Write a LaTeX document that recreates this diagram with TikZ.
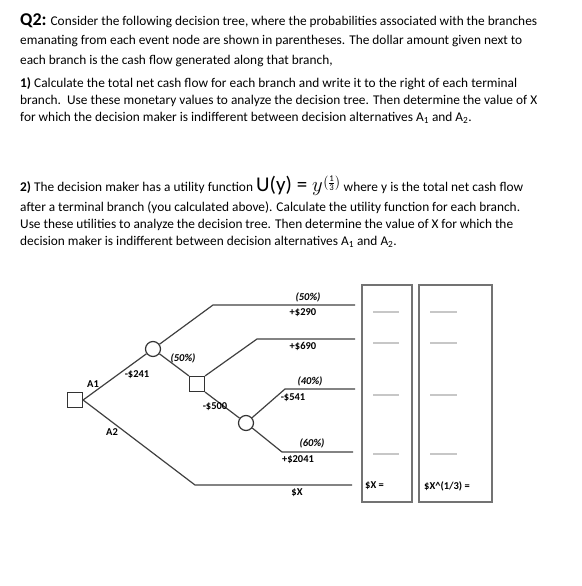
\documentclass[tikz,border=0pt]{standalone}
\usepackage{amsmath}
\usepackage{fontspec}
\setmainfont{Carlito}
\newcommand\jline[2]{\makebox[#1][s]{#2}}
\begin{document}
\begin{tikzpicture}[x=1pt,y=-1pt,
  txt/.style={anchor=base west, inner sep=0pt, font=\fontsize{13.35}{16}\selectfont},
  lbl/.style={inner sep=0pt, font=\fontsize{10.5}{12}\selectfont\bfseries},
  plbl/.style={inner sep=0pt, font=\fontsize{10.5}{12}\selectfont\bfseries\itshape},
  branch/.style={draw=black!75, line width=1.2pt},
  dec/.style={draw=black!80, line width=1.2pt, rectangle, minimum size=15pt, inner sep=0pt},
  chance/.style={draw=black!80, line width=1.2pt, circle, minimum size=15pt, inner sep=0pt},
  colbox/.style={draw=black!55, line width=1.3pt, rectangle, inner sep=0pt},
  guide/.style={fill=black!22, draw=none, rectangle, inner sep=0pt, outer sep=0pt, minimum height=1.1pt}]
\useasboundingbox (0,0) rectangle (581,586);

% ---- text ----
\node[txt] (l1) at (20,26) {\jline{517pt}{\textbf{\fontsize{18}{18}\selectfont Q2:} Consider the following decision tree, where the probabilities associated with the branches}};
\node[txt] (l2) at (20,45) {\jline{502pt}{emanating from each event node are shown in parentheses. The dollar amount given next to}};
\node[txt] (l3) at (20,64) {each branch is the cash flow generated along that branch,};
\node[txt] (l4) at (20,87) {\jline{497pt}{\textbf{1)} Calculate the total net cash flow for each branch and write it to the right of each terminal}};
\node[txt] (l5) at (20,104) {\jline{517pt}{branch.\ \ Use these monetary values to analyze the decision tree. Then determine the value of X}};
\node[txt] (l6) at (20,121) {for which the decision maker is indifferent between decision alternatives A\textsubscript{1} and A\textsubscript{2}.};
\node[txt] (l7) at (20,191) {\jline{503pt}{\textbf{2)} The decision maker has a utility function {\fontsize{21}{21}\selectfont U(y) = $y$}\raisebox{5pt}{\fontsize{12.5}{13}\selectfont$\left(\frac{\text{1}}{\text{3}}\right)$} where y is the total net cash flow}};
\node[txt] (l8) at (20,211) {\jline{500pt}{after a terminal branch (you calculated above). Calculate the utility function for each branch.}};
\node[txt] (l9) at (20,228) {\jline{493pt}{Use these utilities to analyze the decision tree. Then determine the value of X for which the}};
\node[txt] (l10) at (20,245) {decision maker is indifferent between decision alternatives A\textsubscript{1} and A\textsubscript{2}.};

% ---- tree nodes ----
\node[dec] (d1) at (75,400) {};
\node[chance] (c1) at (153,349) {};
\node[dec] (d2) at (197,384) {};
\node[chance] (c2) at (246,423) {};

\coordinate (t1s) at (213,305); \coordinate (t1e) at (355,305);
\coordinate (t2s) at (257,339); \coordinate (t2e) at (355,339);
\coordinate (t3s) at (285,389); \coordinate (t3e) at (355,389);
\coordinate (t4s) at (282,452); \coordinate (t4e) at (353,452);
\coordinate (t5s) at (195,485); \coordinate (t5e) at (352,485);

\draw[branch] (d1.east) -- (c1);
\draw[branch] (c1) -- (t1s) -- (t1e);
\draw[branch] (c1) -- (d2.north west);
\draw[branch] (d2.north east) -- (t2s) -- (t2e);
\draw[branch] (d2.south east) -- (c2);
\draw[branch] (c2) -- (t3s) -- (t3e);
\draw[branch] (c2) -- (t4s) -- (t4e);
\draw[branch] (d1.east) -- (t5s) -- (t5e);

% ---- tree labels ----
\node[plbl] (p1) at (308,297) {(50\%)};
\node[lbl] (v1) at (303,313) {+\$290};
\node[lbl] (v2) at (303,346) {+\$690};
\node[plbl] (p2) at (183,358) {(50\%)};
\node[lbl] (v3) at (137,375) {-\$241};
\node[lbl] (a1) at (93,384) {A1};
\node[plbl] (p3) at (310,381) {(40\%)};
\node[lbl] (v4) at (293,398) {-\$541};
\node[lbl] (v5) at (215,407) {-\$500};
\node[lbl] (a2) at (112,432) {A2};
\node[plbl] (p4) at (312,443) {(60\%)};
\node[lbl] (v6) at (298,460) {+\$2041};
\node[lbl] (v7) at (297,493) {\$X};

% ---- answer columns ----
\node[colbox, minimum width=50pt, minimum height=217pt] (box1) at (387,393.5) {};
\node[colbox, minimum width=73pt, minimum height=217pt] (box2) at (455.5,393.5) {};
\node[guide, minimum width=26pt] (g1) at (386,312) {};
\node[guide, minimum width=26pt] (g2) at (386,343) {};
\node[guide, minimum width=26pt] (g3) at (386,395) {};
\node[guide, minimum width=26pt] (g4) at (386,454) {};
\node[guide, minimum width=27pt] (h1) at (443.5,312) {};
\node[guide, minimum width=27pt] (h2) at (443.5,343) {};
\node[guide, minimum width=27pt] (h3) at (443.5,395) {};
\node[guide, minimum width=27pt] (h4) at (443.5,454) {};
\node[lbl, anchor=west] (sx) at (365,486) {\$X =};
\node[lbl, anchor=west] (sx3) at (424,486) {\$X\^{}(1/3) =};
\end{tikzpicture}
\end{document}
